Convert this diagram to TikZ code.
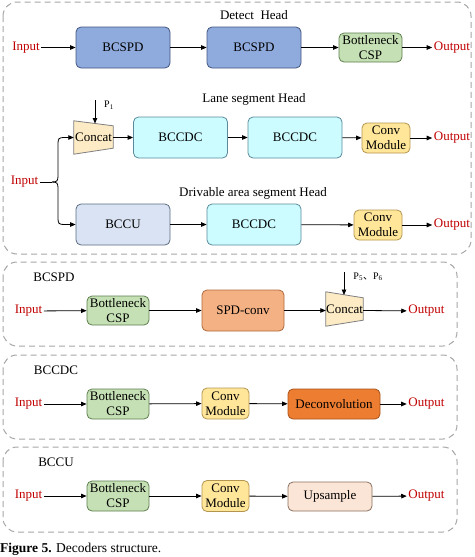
\documentclass[tikz,border=0pt]{standalone}
\usepackage{fontspec}
\setmainfont{Liberation Serif}
\newfontfamily\cjk{Noto Sans CJK SC}
\usetikzlibrary{arrows.meta,calc}
\definecolor{bcspdfill}{HTML}{8FAADC}
\definecolor{bcspddraw}{HTML}{42557F}
\definecolor{bnfill}{HTML}{C5E0B4}
\definecolor{bndraw}{HTML}{5E7F4E}
\definecolor{ccdcfill}{HTML}{CCFCFF}
\definecolor{ccdcdraw}{HTML}{5A8A99}
\definecolor{convfill}{HTML}{FFE699}
\definecolor{convdraw}{HTML}{B39550}
\definecolor{bccufill}{HTML}{DAE3F3}
\definecolor{bccudraw}{HTML}{5B6B80}
\definecolor{spdfill}{HTML}{F4B183}
\definecolor{spddraw}{HTML}{B0693A}
\definecolor{decfill}{HTML}{ED7D31}
\definecolor{decdraw}{HTML}{A8521A}
\definecolor{upsfill}{HTML}{FBE5D6}
\definecolor{upsdraw}{HTML}{8A7060}
\definecolor{catfill}{HTML}{FCEBC4}
\definecolor{catdraw}{HTML}{7F7F7F}
\definecolor{iored}{HTML}{C00000}
\definecolor{paneldash}{HTML}{A6A6A6}
\begin{document}
\begin{tikzpicture}[x=1pt,y=-1pt,
  blk/.style={draw, rounded corners=5pt, line width=0.8pt, align=center, inner sep=0pt,
    font=\fontsize{13}{15}\selectfont, text=black},
  bigbox/.style={blk, minimum width=94pt, minimum height=41pt},
  bcspdbox/.style={bigbox, fill=bcspdfill, draw=bcspddraw},
  ccdcbox/.style={bigbox, fill=ccdcfill, draw=ccdcdraw},
  bccubox/.style={bigbox, fill=bccufill, draw=bccudraw},
  bnbox/.style={blk, fill=bnfill, draw=bndraw, minimum width=62pt, minimum height=29pt},
  convbox/.style={blk, fill=convfill, draw=convdraw, minimum width=47pt, minimum height=30pt},
  io/.style={font=\fontsize{13}{15}\selectfont, text=iored, inner sep=1.5pt},
  ttl/.style={font=\fontsize{13}{15}\selectfont, inner sep=0pt},
  plbl/.style={font=\fontsize{10}{11}\selectfont, inner sep=0pt},
  cat/.style={inner sep=0pt, font=\fontsize{13}{15}\selectfont},
  catshape/.style={fill=catfill, draw=catdraw, line width=0.8pt},
  arr/.style={-{Triangle[length=5.5pt,width=4.5pt]}, line width=0.8pt},
  ln/.style={line width=0.8pt},
  panel/.style={draw=paneldash, dash pattern=on 6pt off 4pt, line width=1pt, rounded corners=14pt}
]
\useasboundingbox (0,0) rectangle (474,557);

% ---------- panel 1 ----------
\draw[panel] (3,2) rectangle (471,254);

\node[ttl] (t1) at (254,15) {Detect~~Head};
\node[io] (in1) at (26,47.5) {Input};
\node[bcspdbox] (b1) at (123,47.5) {BCSPD};
\node[bcspdbox] (b2) at (254,47.5) {BCSPD};
\node[bnbox, minimum width=63pt] (bn1) at (370.5,47.5) {Bottleneck\\CSP};
\node[io] (out1) at (452,47.5) {Output};
\draw[arr] (in1) -- (b1);
\draw[arr] (b1) -- (b2);
\draw[arr] (b2) -- (bn1);
\draw[arr] (bn1) -- (out1);

\node[ttl] (t2) at (254,99) {Lane segment Head};
\node[cat, minimum width=39pt, minimum height=33pt] (c1) at (93.5,137.5) {};
\draw[catshape] (c1.north west) -- ([yshift=-5pt]c1.north east) -- ([yshift=6pt]c1.south east) -- (c1.south west) -- cycle;
\node[cat] (c1t) at (c1.center) {Concat};
\node[plbl] (p1) at (109,105) {P\textsubscript{1}};
\coordinate (p1top) at (95,100);
\draw[arr] (p1top) -- (95,123.5);
\node[ccdcbox] (b3) at (180.5,137.5) {BCCDC};
\node[ccdcbox] (b4) at (295,137.5) {BCCDC};
\node[convbox, minimum width=48pt] (cm1) at (386,138) {Conv\\Module};
\node[io] (out2) at (452,138) {Output};
\draw[arr] (c1.east) -- (b3);
\draw[arr] (b3) -- (b4);
\draw[arr] (b4) -- (cm1);
\draw[arr] (cm1) -- (out2);

\node[io] (in2) at (24.5,182) {Input};
\coordinate (br) at (52,182);
\coordinate (bx) at (58,182);
\node[ttl] (t3) at (253,193) {Drivable area segment Head};
\node[bccubox] (b5) at (123,224.5) {BCCU};
\node[ccdcbox] (b6) at (254,224.5) {BCCDC};
\node[convbox, minimum width=48pt] (cm2) at (378,225) {Conv\\Module};
\node[io] (out3) at (452,225) {Output};
\draw[ln] (in2.east) -- (br);
\draw[arr] (br) .. controls ($(br)+(5,0)$) and ($(bx)+(0,-1)$) .. ($(bx)+(0,-6)$)
  -- ($(bx |- c1.west)+(0,6)$) .. controls ($(bx |- c1.west)+(0,1)$) and ($(bx |- c1.west)+(1,0)$) .. ($(bx |- c1.west)+(6,0)$)
  -- (c1.west);
\draw[arr] (br) .. controls ($(br)+(5,0)$) and ($(bx)+(0,1)$) .. ($(bx)+(0,6)$)
  -- ($(bx |- b5.west)+(0,-6)$) .. controls ($(bx |- b5.west)+(0,-1)$) and ($(bx |- b5.west)+(1,0)$) .. ($(bx |- b5.west)+(6,0)$)
  -- (b5.west);
\draw[arr] (b5) -- (b6);
\draw[arr] (b6) -- (cm2);
\draw[arr] (cm2) -- (out3);

% ---------- panel 2 : BCSPD ----------
\draw[panel] (3,262) rectangle (457,346);
\node[ttl] (t4) at (54,277) {BCSPD};
\node[io] (in4) at (28.5,311) {Input};
\node[bnbox] (bn2) at (118,310.5) {Bottleneck\\CSP};
\node[blk, fill=spdfill, draw=spddraw, minimum width=82pt, minimum height=41pt] (spd) at (243,310.5) {SPD-conv};
\node[cat, minimum width=37pt, minimum height=34pt] (c2) at (344.5,309) {};
\draw[catshape] (c2.north west) -- ([yshift=-6pt]c2.north east) -- ([yshift=6pt]c2.south east) -- (c2.south west) -- cycle;
\node[cat] (c2t) at (c2.center) {Concat};
\node[plbl] (p56) at (368,277) {P\textsubscript{5}{\cjk 、}P\textsubscript{6}};
\coordinate (p56top) at (344,272);
\draw[arr] (p56top) -- (344,295);
\node[io] (out4) at (426.5,311) {Output};
\draw[arr] (in4) -- (bn2);
\draw[arr] (bn2) -- (spd);
\draw[arr] (spd) -- (c2.west |- spd);
\draw[arr] (c2.east |- spd) -- (out4);

% ---------- panel 3 : BCCDC ----------
\draw[panel] (3,355) rectangle (457,439);
\node[ttl] (t5) at (56,370) {BCCDC};
\node[io] (in5) at (28.5,404) {Input};
\node[bnbox, minimum height=30pt] (bn3) at (118,404) {Bottleneck\\CSP};
\node[convbox, minimum height=31pt] (cm3) at (225.5,403.5) {Conv\\Module};
\node[blk, fill=decfill, draw=decdraw, minimum width=92pt, minimum height=30pt] (dec) at (334,404) {Deconvolution};
\node[io] (out5) at (426.5,404) {Output};
\draw[arr] (in5) -- (bn3);
\draw[arr] (bn3) -- (cm3);
\draw[arr] (cm3) -- (dec);
\draw[arr] (dec) -- (out5);

% ---------- panel 4 : BCCU ----------
\draw[panel] (3,447) rectangle (457,532);
\node[ttl] (t6) at (56,462) {BCCU};
\node[io] (in6) at (28.5,496) {Input};
\node[bnbox, minimum height=30pt] (bn4) at (118,496) {Bottleneck\\CSP};
\node[convbox, minimum height=31pt] (cm4) at (225.5,496) {Conv\\Module};
\node[blk, fill=upsfill, draw=upsdraw, minimum width=84pt, minimum height=29pt] (ups) at (330,496.5) {Upsample};
\node[io] (out6) at (426.5,496) {Output};
\draw[arr] (in6) -- (bn4);
\draw[arr] (bn4) -- (cm4);
\draw[arr] (cm4) -- (ups);
\draw[arr] (ups) -- (out6);

% ---------- caption ----------
\node[anchor=west, inner sep=0pt, font=\fontsize{13.5}{15}\selectfont] (cap) at (0,549) {\textbf{Figure 5.} Decoders structure.};
\end{tikzpicture}
\end{document}
